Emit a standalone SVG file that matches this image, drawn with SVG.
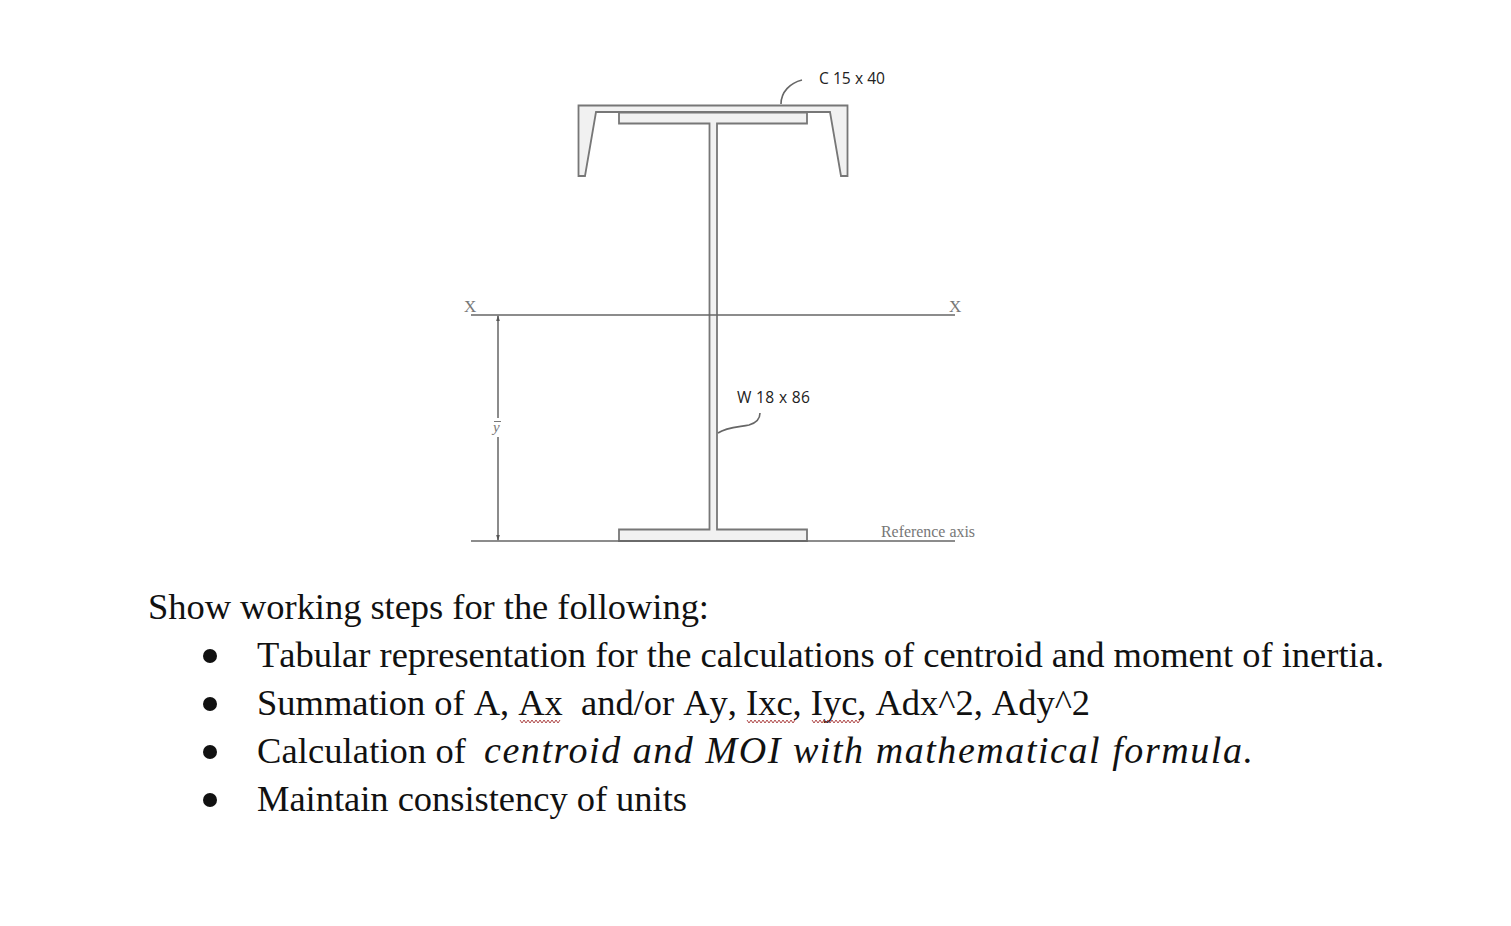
<svg xmlns="http://www.w3.org/2000/svg" width="1511" height="926" viewBox="0 0 1511 926">
<style>
.s{fill:#f1f1f1;stroke:#777;stroke-width:1.800;stroke-linejoin:miter}
.l{fill:none;stroke:#666;stroke-width:1.600}
.a{fill:none;stroke:#666;stroke-width:1.500}
.b{font-family:"Liberation Serif",serif;font-size:36.500px;fill:#111;font-kerning:none}
.i{font-family:"Liberation Serif",serif;font-size:38px;fill:#111;font-style:italic}
.c{font-family:"Open Sans","Liberation Sans",sans-serif;font-size:15.600px;fill:#222}
.g{font-family:"Liberation Serif",serif;fill:#777}
.w{fill:none;stroke:#b04a4a;stroke-width:1}
</style>
<rect width="1511" height="926" fill="#fff"/>
<g id="channel"><path class="s" d="M578.500 105.500H847.500V176H841L830 112H596L585 176H578.500Z"/></g>
<g id="wbeam"><path class="s" d="M619 112.500H807V123.500H717V529.500H807V541H619V529.500H709.500V123.500H619Z"/></g>
<g id="connectors">
<path class="a" d="M471 315H955"/>
<path class="a" d="M471 541H955"/>
<path class="a" d="M498 316V418M498 437V540"/>
<path class="l" d="M781 104C781 92 790 83 802 80"/>
<path class="l" d="M718 433C727 427 740 427 749 425C756 423 760 419 760 413"/>
<path fill="#555" d="M498 315l-1.800 6h3.600ZM498 541l-1.800-6h3.600Z"/>
<path stroke="#777" stroke-width="1" d="M494 421.500H501"/>
</g>
<g id="labels">
<text class="c" x="819" y="84" textLength="66">C 15 x 40</text>
<text class="c" x="737" y="403" textLength="73">W 18 x 86</text>
<text class="g" x="464" y="312" font-size="17">X</text>
<text class="g" x="949" y="312" font-size="17">X</text>
<text class="g" x="493" y="432" font-size="15" font-style="italic">y</text>
<text class="g" x="881" y="537" font-size="16.500" textLength="94" lengthAdjust="spacingAndGlyphs">Reference axis</text>
</g>
<g id="body">
<text class="b" x="148" y="619" textLength="561">Show working steps for the following:</text>
<circle cx="210" cy="656" r="7" fill="#111"/>
<circle cx="210" cy="704" r="7" fill="#111"/>
<circle cx="210" cy="752" r="7" fill="#111"/>
<circle cx="210" cy="800" r="7" fill="#111"/>
<text class="b" x="257" y="667" textLength="1127">Tabular representation for the calculations of centroid and moment of inertia.</text>
<text class="b" x="257" y="715" xml:space="preserve" textLength="833">Summation of A, Ax  and/or Ay, Ixc, Iyc, Adx^2, Ady^2</text>
<text class="b" x="257" y="763" textLength="209">Calculation of</text>
<text class="i" x="484" y="763" textLength="769" lengthAdjust="spacing">centroid and MOI with mathematical formula.</text>
<text class="b" x="257" y="811" textLength="430">Maintain consistency of units</text>
<path class="w" d="M520 720l2 3 2-3 2 3 2-3 2 3 2-3 2 3 2-3 2 3 2-3 2 3 2-3 2 3 2-3 2 3 2-3 2 3 2-3 2 3 2-3"/>
<path class="w" d="M747 720l2 3 2-3 2 3 2-3 2 3 2-3 2 3 2-3 2 3 2-3 2 3 2-3 2 3 2-3 2 3 2-3 2 3 2-3 2 3 2-3 2 3 2-3 2 3 2-3"/>
<path class="w" d="M812 720l2 3 2-3 2 3 2-3 2 3 2-3 2 3 2-3 2 3 2-3 2 3 2-3 2 3 2-3 2 3 2-3 2 3 2-3 2 3 2-3 2 3 2-3 2 3 2-3"/>
</g>
</svg>
